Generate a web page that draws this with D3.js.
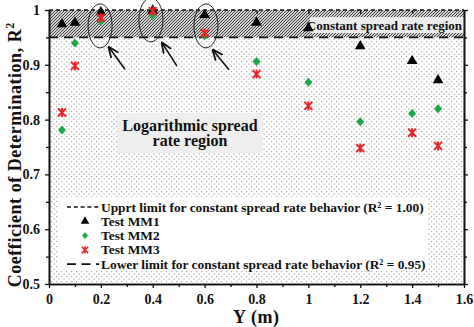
<!DOCTYPE html>
<html>
<head>
<meta charset="utf-8">
<script src="https://cdn.jsdelivr.net/npm/d3@7"></script>
<style>
  body { margin: 0; background: #fff; }
  svg text { font-family: "Liberation Serif", "Times New Roman", serif; font-weight: bold; fill: #111; }
</style>
</head>
<body>
<div id="chart"></div>
<script>
// data
const yPos = [0.05, 0.1, 0.2, 0.4, 0.6, 0.8, 1.0, 1.2, 1.4, 1.5];
const mm1 = [0.974, 0.977, 0.996, 0.999, 0.991, 0.977, 0.967, 0.934, 0.907, 0.872];
const mm2 = [0.781, 0.940, 0.979, 0.990, 0.953, 0.906, 0.868, 0.796, 0.811, 0.820];
const mm3 = [0.813, 0.898, 0.986, 0.998, 0.958, 0.883, 0.825, 0.748, 0.776, 0.752];
const upperLimit = 1.00;
const lowerLimit = 0.95;

const xTicks = [0, 0.2, 0.4, 0.6, 0.8, 1, 1.2, 1.4, 1.6];
const xTickLabels = ['0', '0.2', '0.4', '0.6', '0.8', '1', '1.2', '1.4', '1.6'];
const yTicks = [0.5, 0.6, 0.7, 0.8, 0.9, 1];
const yTickLabels = ['0.5', '0.6', '0.7', '0.8', '0.9', '1'];

const legendLabels = [
  'Upprt limit for constant spread rate behavior (R² = 1.00)',
  'Test MM1',
  'Test MM2',
  'Test MM3',
  'Lower limit for constant spread rate behavior (R² = 0.95)'
];

const width = 474, height = 327;
const pLeft = 49, pRight = 464, pTop = 10, pBottom = 284;

const x = d3.scaleLinear().domain([0, 1.6]).range([pLeft, pRight]);
const y = d3.scaleLinear().domain([0.5, 1.0]).range([pBottom, pTop]);

const svg = d3.select('#chart').append('svg')
  .attr('width', width)
  .attr('height', height);

const defs = svg.append('defs');

// stipple for the whole plot
const dots = defs.append('pattern')
  .attr('id', 'dots')
  .attr('patternUnits', 'userSpaceOnUse')
  .attr('width', 5).attr('height', 5);
dots.append('rect').attr('width', 5).attr('height', 5).attr('fill', '#fff');
dots.append('rect').attr('x', 1).attr('y', 1).attr('width', 1.2).attr('height', 1.2).attr('fill', '#ababab');
dots.append('rect').attr('x', 3.5).attr('y', 3.5).attr('width', 1.2).attr('height', 1.2).attr('fill', '#ababab');

// hatch for constant band
const hatch = defs.append('pattern')
  .attr('id', 'hatch')
  .attr('patternUnits', 'userSpaceOnUse')
  .attr('width', 3).attr('height', 3);
hatch.append('rect').attr('width', 3).attr('height', 3).attr('fill', '#d0d0d0');
hatch.append('path').attr('d', 'M-1,1 l2,-2 M0,3 l3,-3 M2,4 l2,-2')
  .attr('stroke', '#444').attr('stroke-width', 1);

defs.append('marker')
  .attr('id', 'arrow')
  .attr('viewBox', '0 0 10 10')
  .attr('refX', 9).attr('refY', 5)
  .attr('markerWidth', 7).attr('markerHeight', 7)
  .attr('orient', 'auto')
  .append('path').attr('d', 'M0,1 L10,5 L0,9').attr('fill', 'none')
  .attr('stroke', '#111').attr('stroke-width', 1.6);

// plot background
svg.append('rect')
  .attr('x', pLeft).attr('y', pTop)
  .attr('width', pRight - pLeft).attr('height', pBottom - pTop)
  .attr('fill', 'url(#dots)');

svg.append('rect')
  .attr('x', pLeft).attr('y', y(upperLimit))
  .attr('width', pRight - pLeft).attr('height', y(lowerLimit) - y(upperLimit))
  .attr('fill', 'url(#hatch)');

// region labels
svg.append('rect')
  .attr('x', x(1.006)).attr('y', y(0.987))
  .attr('width', x(1.6) - x(1.006)).attr('height', y(0.958) - y(0.987))
  .attr('fill', '#ececec');
svg.append('text')
  .attr('x', x(1.6) - 2).attr('y', y(0.9725) + 4.5)
  .attr('text-anchor', 'end')
  .attr('font-size', 13)
  .text('Constant spread rate region');

svg.append('rect')
  .attr('x', x(0.262)).attr('y', y(0.812))
  .attr('width', x(0.825) - x(0.262)).attr('height', y(0.739) - y(0.812))
  .attr('fill', '#eeeeee');
svg.append('text')
  .attr('x', (x(0.262) + x(0.825)) / 2).attr('y', y(0.78))
  .attr('text-anchor', 'middle').attr('font-size', 16)
  .text('Logarithmic spread');
svg.append('text')
  .attr('x', (x(0.262) + x(0.825)) / 2).attr('y', y(0.751))
  .attr('text-anchor', 'middle').attr('font-size', 16)
  .text('rate region');

// legend box
svg.append('rect')
  .attr('x', x(0.035)).attr('y', y(0.659))
  .attr('width', x(1.461) - x(0.035)).attr('height', y(0.524) - y(0.659))
  .attr('fill', '#fff');

// limit lines
svg.append('line')
  .attr('x1', pLeft).attr('x2', pRight)
  .attr('y1', y(upperLimit)).attr('y2', y(upperLimit))
  .attr('stroke', '#111').attr('stroke-width', 1.6)
  .attr('stroke-dasharray', '4,3');
svg.append('line')
  .attr('x1', pLeft).attr('x2', pRight)
  .attr('y1', y(lowerLimit)).attr('y2', y(lowerLimit))
  .attr('stroke', '#111').attr('stroke-width', 1.8)
  .attr('stroke-dasharray', '9,6');

// axes
const xAxis = svg.append('g').attr('transform', `translate(0,${pBottom})`)
  .call(d3.axisBottom(x).tickValues(xTicks).tickFormat((d, i) => xTickLabels[i]).tickSize(4).tickSizeOuter(0));
svg.append('g').attr('transform', `translate(0,${pBottom})`)
  .call(d3.axisBottom(x).tickValues(d3.range(0.1, 1.6, 0.2)).tickFormat('').tickSize(3).tickSizeOuter(0));
const yAxis = svg.append('g').attr('transform', `translate(${pLeft},0)`)
  .call(d3.axisLeft(y).tickValues(yTicks).tickFormat((d, i) => yTickLabels[i]).tickSize(4).tickSizeOuter(0));
svg.append('g').attr('transform', `translate(${pLeft},0)`)
  .call(d3.axisLeft(y).tickValues(d3.range(0.55, 1.0, 0.1)).tickFormat('').tickSize(3).tickSizeOuter(0));
svg.append('g').attr('transform', `translate(${pRight},0)`)
  .call(d3.axisRight(y).tickValues(yTicks).tickFormat('').tickSize(4).tickSizeOuter(0));
svg.append('g').attr('transform', `translate(${pRight},0)`)
  .call(d3.axisRight(y).tickValues(d3.range(0.55, 1.0, 0.1)).tickFormat('').tickSize(3).tickSizeOuter(0));
svg.append('g').attr('transform', `translate(0,${pTop})`)
  .call(d3.axisBottom(x).tickValues(xTicks).tickFormat('').tickSize(4).tickSizeOuter(0))
  .select('.domain').remove();

svg.selectAll('.domain').attr('stroke', '#111').attr('stroke-width', 1.6);
svg.selectAll('.tick line').attr('stroke', '#111').attr('stroke-width', 1.3);
svg.selectAll('.tick text').attr('font-size', 14).attr('font-family', '"Liberation Serif", serif')
  .attr('font-weight', 'bold').attr('fill', '#111');
xAxis.selectAll('.tick text').attr('dy', '0.9em');
yAxis.selectAll('.tick text').attr('dx', '-2');

// axis titles
svg.append('text')
  .attr('x', 256).attr('y', 323)
  .attr('text-anchor', 'middle').attr('font-size', 18)
  .attr('textLength', 46).attr('lengthAdjust', 'spacing')
  .text('Y (m)');
const yt = svg.append('text')
  .attr('transform', `translate(21,155) rotate(-90)`)
  .attr('text-anchor', 'middle').attr('font-size', 18);
yt.append('tspan').attr('textLength', 258).attr('lengthAdjust', 'spacing')
  .text('Coefficient of Determination, R');
yt.append('tspan').attr('dy', -7).attr('font-size', 12).text('2');

// markers
const triangle = d3.symbol().type(d3.symbolTriangle).size(50);
const diamond = 'M0,-4.5 L4,0 L0,4.5 L-4,0 Z';
function star(g) {
  g.append('path')
    .attr('d', 'M-4,-4 L4,4 M-4,4 L4,-4 M0,-4.5 L0,4.5')
    .attr('stroke', '#e8232b').attr('stroke-width', 2).attr('fill', 'none');
}

svg.append('g').selectAll('path')
  .data(yPos.map((v, i) => [v, mm1[i]]))
  .enter().append('path')
  .attr('transform', d => `translate(${x(d[0])},${y(d[1])})`)
  .attr('d', triangle).attr('fill', '#000');

svg.append('g').selectAll('path')
  .data(yPos.map((v, i) => [v, mm2[i]]))
  .enter().append('path')
  .attr('transform', d => `translate(${x(d[0])},${y(d[1])})`)
  .attr('d', diamond).attr('fill', '#1fa64a');

svg.append('g').selectAll('g')
  .data(yPos.map((v, i) => [v, mm3[i]]))
  .enter().append('g')
  .attr('transform', d => `translate(${x(d[0])},${y(d[1])})`)
  .each(function() { star(d3.select(this)); });

// highlight ellipses and arrows
const circled = [[0.197, 0.971], [0.393, 0.982], [0.605, 0.971]];
const arrows = [
  [[0.293, 0.892], [0.231, 0.932]],
  [[0.493, 0.898], [0.436, 0.940]],
  [[0.694, 0.891], [0.632, 0.927]]
];
svg.append('g').selectAll('ellipse')
  .data(circled).enter().append('ellipse')
  .attr('cx', d => x(d[0])).attr('cy', d => y(d[1]))
  .attr('rx', 12).attr('ry', 22)
  .attr('fill', 'none').attr('stroke', '#222').attr('stroke-width', 1);
svg.append('g').selectAll('line')
  .data(arrows).enter().append('line')
  .attr('x1', d => x(d[0][0])).attr('y1', d => y(d[0][1]))
  .attr('x2', d => x(d[1][0])).attr('y2', d => y(d[1][1]))
  .attr('stroke', '#111').attr('stroke-width', 1.6)
  .attr('marker-end', 'url(#arrow)');

// legend
const lg = svg.append('g');
const lx = 85, ltx = 101, ly0 = 207, lstep = 14.3;
legendLabels.forEach((t, i) => {
  const yy = ly0 + i * lstep;
  lg.append('text').attr('x', ltx).attr('y', yy + 4.5).attr('font-size', 13.4).text(t);
});
lg.append('line').attr('x1', 67).attr('x2', 99).attr('y1', ly0).attr('y2', ly0)
  .attr('stroke', '#111').attr('stroke-width', 1.6).attr('stroke-dasharray', '4,2.8');
lg.append('path').attr('transform', `translate(${lx},${ly0 + lstep})`)
  .attr('d', d3.symbol().type(d3.symbolTriangle).size(32)).attr('fill', '#000');
lg.append('path').attr('transform', `translate(${lx},${ly0 + 2 * lstep}) scale(0.75)`)
  .attr('d', diamond).attr('fill', '#1fa64a');
lg.append('g').attr('transform', `translate(${lx},${ly0 + 3 * lstep}) scale(0.8)`)
  .call(star);
lg.append('line').attr('x1', 67).attr('x2', 99).attr('y1', ly0 + 4 * lstep).attr('y2', ly0 + 4 * lstep)
  .attr('stroke', '#111').attr('stroke-width', 1.8).attr('stroke-dasharray', '9,5.5');
</script>
</body>
</html>
